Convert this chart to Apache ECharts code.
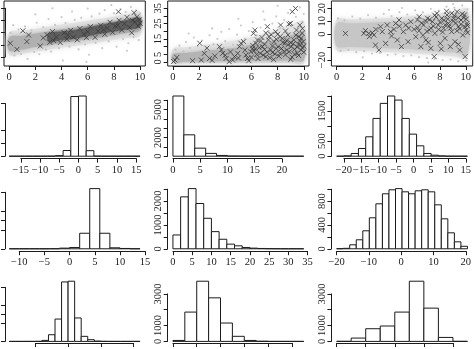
<!DOCTYPE html>
<html>
<head>
<meta charset="utf-8">
<script src="https://cdn.jsdelivr.net/npm/echarts@6/dist/echarts.min.js"></script>
<style>
html,body{margin:0;padding:0;background:#fff}
#chart{width:474px;height:349px}
</style>
</head>
<body>
<div id="chart"></div>
<script>
// ---------- scatter panels (row 1) ----------
// population cloud envelopes (dense core and lighter outer haze)
const bandX = [0, 1, 2, 3, 4, 5, 6, 7, 8, 9, 10];

const popA_hi      = [8.0, 8.7, 9.6, 10.4, 11.2, 12.0, 12.8, 13.6, 14.5, 15.4, 16.4];
const popA_lo      = [2.6, 3.1, 4.1, 4.8, 5.8, 6.4, 7.2, 8.0, 8.9, 9.8, 10.8];
const popA_outerHi = [10.0, 10.6, 11.5, 12.4, 13.3, 14.0, 14.8, 15.7, 16.6, 17.5, 18.4];
const popA_outerLo = [0.8, 1.3, 2.2, 3.0, 3.8, 4.5, 5.3, 6.1, 7.0, 7.8, 8.8];
const sampA_coreX  = [3, 4, 5, 6, 7, 8, 9, 10];
const sampA_coreHi = [9.6, 10.4, 11.0, 12.1, 13.1, 14.1, 15.1, 15.9];
const sampA_coreLo = [6.4, 6.9, 7.6, 8.6, 9.6, 10.4, 11.3, 12.4];
const popA_pts = [[0.1,9.8],[0.4,0.6],[0.7,11.2],[0.9,1.2],[1.2,12.5],[1.4,-0.8],[1.7,10.9],[1.9,2.0],[2.1,14.0],[2.3,1.1],[2.6,12.2],[2.8,3.0],[3.0,15.5],[3.2,2.2],[3.5,13.1],[3.8,3.6],[4.0,16.3],[4.1,-1.5],[4.3,13.9],[4.6,4.2],[4.8,18.6],[5.0,15.2],[5.3,3.1],[5.5,16.0],[5.8,5.1],[6.0,19.8],[6.1,0.9],[6.3,16.6],[6.6,5.8],[6.9,17.7],[7.1,3.6],[7.3,19.2],[7.6,6.4],[7.8,21.2],[8.0,17.9],[8.2,4.2],[8.5,19.6],[8.7,7.3],[8.9,18.4],[9.1,5.6],[9.3,20.4],[9.5,8.1],[9.7,19.1],[9.9,6.9],[10.0,17.8],[2.0,17.4],[5.9,-2.0],[3.3,19.9],[9.0,2.5],[0.3,13.0]];
const sampA_pts = [[0.08,5.6],[0.59,3.1],[1.04,10.7],[1.35,6.3],[1.48,9.0],[2.37,4.5],[2.6,7.8],[2.9,9.1],[3.1,6.0],[3.3,10.4],[3.6,8.2],[3.9,5.9],[4.2,9.9],[4.4,7.3],[4.7,10.9],[4.9,8.1],[5.2,7.0],[5.4,11.6],[5.7,9.4],[5.9,7.9],[6.2,12.4],[6.56,8.0],[6.8,10.6],[7.0,12.9],[7.3,9.3],[7.5,11.8],[7.7,14.2],[7.9,10.1],[8.1,12.7],[8.35,18.5],[8.4,15.0],[8.6,11.0],[8.8,13.6],[9.0,16.2],[9.2,12.1],[9.36,9.9],[9.54,18.1],[9.6,14.3],[9.75,16.4],[9.85,12.6],[9.95,15.2],[10.0,13.8],[3.4,6.7],[4.5,8.9],[6.0,10.3],[7.2,11.1],[8.3,13.0],[9.4,15.0]];

const popB_hi      = [4.8, 5.6, 6.4, 7.2, 8.0, 9.0, 10.4, 12.0, 14.0, 16.2, 18.5];
const popB_lo      = [0.2, 0.2, 0.3, 0.3, 0.4, 0.5, 0.6, 0.7, 0.8, 0.9, 1.0];
const popB_outerHi = [8.0, 9.0, 10.0, 11.0, 12.2, 13.6, 15.4, 17.4, 19.8, 22.4, 25.0];
const popB_outerLo = [-0.6, -0.6, -0.6, -0.6, -0.6, -0.6, -0.6, -0.6, -0.6, -0.6, -0.6];
const popB_pts = [[0.2,7.5],[0.5,10.0],[0.8,6.5],[1.0,12.2],[1.3,8.6],[1.6,15.0],[1.9,9.8],[2.2,13.2],[2.5,7.8],[2.8,16.4],[3.1,11.0],[3.4,14.2],[3.7,18.5],[4.0,12.8],[4.3,20.2],[4.6,10.6],[4.9,16.8],[5.2,22.4],[5.5,14.2],[5.8,19.0],[6.1,24.5],[6.4,16.4],[6.7,21.2],[7.0,26.0],[7.3,18.6],[7.6,23.6],[7.9,28.0],[8.2,20.8],[8.5,25.8],[8.8,30.2],[9.1,22.6],[9.4,27.8],[9.7,33.5],[9.9,24.6],[10.0,29.6],[3.0,20.6],[5.0,26.5],[6.9,31.0],[8.0,34.5],[1.2,17.5]];
const sampB_pts = [[0.05,0.3],[0.15,1.2],[0.3,2.8],[2.05,11.5],[2.17,1.2],[2.4,5.3],[2.8,2.2],[3.2,3.7],[3.56,9.4],[3.7,7.4],[3.8,5.3],[4.07,2.2],[4.3,0.2],[4.57,1.2],[4.7,3.3],[4.95,5.3],[5.08,9.4],[5.2,11.5],[5.4,12.5],[5.58,4.3],[5.7,2.2],[5.96,6.3],[6.09,8.4],[6.16,17.6],[6.26,19.6],[6.34,11.5],[6.46,13.5],[6.67,5.3],[6.84,9.4],[7.1,3.3],[7.22,21.7],[7.35,15.5],[7.47,7.4],[7.73,12.5],[7.85,18.6],[8.03,9.4],[8.18,5.3],[8.23,22.7],[8.36,14.5],[8.54,11.5],[8.69,7.4],[8.79,16.6],[8.86,23.3],[8.99,23.7],[9.04,9.4],[9.12,30.9],[9.24,13.5],[9.37,32.9],[9.44,19.6],[9.5,5.3],[9.62,15.5],[9.7,22.7],[9.75,10.4],[9.8,7.4],[9.87,17.6],[9.95,12.5],[6.0,3.0],[6.2,6.9],[6.5,2.1],[6.6,8.8],[6.9,4.2],[7.0,11.0],[7.2,6.1],[7.4,2.7],[7.6,9.8],[7.8,5.0],[7.9,14.0],[8.1,3.6],[8.3,8.3],[8.4,12.0],[8.6,4.4],[8.8,10.6],[8.9,6.3],[9.1,3.0],[9.2,11.2],[9.3,7.8],[9.5,9.2],[9.6,4.0],[9.7,13.0],[9.9,8.6],[9.9,20.5],[10.0,6.0],[9.4,16.5],[8.0,17.0],[7.5,16.8],[6.8,15.0],[5.5,7.3],[5.0,2.5],[4.4,6.2],[3.0,1.0],[2.6,8.5],[1.5,0.8],[4.0,4.2],[5.8,0.8],[7.7,1.5],[9.0,1.6],[6.1,10.2],[6.4,4.6],[6.7,12.8],[7.0,7.6],[7.3,13.6],[7.6,5.8],[7.9,8.2],[8.2,15.6],[8.5,6.4],[8.7,13.2],[9.0,11.8],[9.3,4.8],[9.6,11.0],[9.8,14.6],[10.0,9.8],[8.6,19.0],[7.1,17.8],[6.3,8.0]];

const popC_hi      = [8.0, 8.2, 8.5, 8.9, 9.4, 10.0, 10.8, 11.8, 13.0, 14.4, 16.0];
const popC_lo      = [-9.5, -9.8, -10.1, -10.5, -10.9, -11.4, -11.9, -12.6, -13.4, -14.2, -15.0];
const popC_outerHi = [11.0, 11.2, 11.5, 11.9, 12.4, 13.0, 13.8, 14.8, 16.0, 17.4, 19.0];
const popC_outerLo = [-12.5, -12.8, -13.1, -13.5, -13.9, -14.4, -14.9, -15.6, -16.4, -17.2, -18.0];
const popC_pts = [[0.1,12.0],[0.3,-13.0],[0.6,10.5],[0.9,-12.2],[1.2,13.4],[1.5,-14.0],[1.8,11.8],[2.1,-13.2],[2.4,14.6],[2.7,-15.0],[3.0,12.6],[3.3,-14.6],[3.6,15.5],[3.9,-16.2],[4.2,13.8],[4.5,-15.6],[4.8,16.8],[5.1,-17.0],[5.4,15.0],[5.7,-16.4],[6.0,18.2],[6.3,-17.8],[6.6,16.6],[6.9,-18.6],[7.2,19.4],[7.5,-19.2],[7.8,18.0],[8.1,-20.0],[8.4,21.0],[8.7,-19.6],[9.0,20.2],[9.3,-21.0],[9.6,22.0],[9.9,-20.4],[10.0,19.0],[2.0,-18.0],[5.0,20.0],[7.0,-22.0],[8.9,23.0],[4.0,18.5]];
const sampC_pts = [[0.67,0.5],[2.08,0.5],[2.2,2.6],[2.46,0.5],[2.72,1.0],[2.85,-0.8],[2.97,-8.5],[3.23,-12.3],[3.36,5.6],[3.49,1.8],[3.74,-7.2],[3.87,6.9],[4.13,1.8],[4.38,3.6],[4.51,8.2],[4.64,-4.6],[4.77,10.8],[4.95,-9.7],[5.1,1.8],[5.28,6.9],[5.46,-5.9],[5.67,9.5],[5.92,3.6],[6.05,-2.1],[6.18,10.8],[6.31,13.3],[6.44,-9.7],[6.64,6.9],[6.82,-4.6],[6.95,12.1],[7.08,3.1],[7.2,-11.0],[7.33,9.5],[7.46,-17.4],[7.51,0.5],[7.67,15.9],[7.77,6.9],[7.92,-7.2],[8.03,12.1],[8.18,4.4],[8.28,-3.3],[8.44,14.6],[8.54,8.2],[8.69,-9.7],[8.79,1.8],[8.95,12.1],[9.05,-5.9],[9.21,17.2],[9.31,5.6],[9.41,-12.3],[9.51,10.8],[9.64,-0.8],[9.77,14.6],[9.82,-17.4],[9.9,3.1],[9.97,8.2],[6.2,5.0],[6.5,8.5],[6.9,2.0],[7.1,11.0],[7.4,6.0],[7.6,13.0],[7.9,9.0],[8.1,1.5],[8.3,7.0],[8.5,11.5],[8.7,4.5],[8.9,9.8],[9.0,14.0],[9.2,2.5],[9.3,12.5],[9.5,7.5],[9.6,15.5],[9.8,5.5],[9.9,11.5],[10.0,1.0],[8.8,16.0],[7.0,-6.5],[8.0,-11.5],[9.3,-8.0],[6.6,-1.0],[5.5,4.5],[4.8,6.0],[4.2,-1.5],[3.0,3.5],[2.5,-2.0],[6.3,2.5],[6.8,10.0],[7.2,4.5],[7.5,14.5],[7.8,3.5],[8.2,10.5],[8.6,6.0],[9.1,8.5],[9.4,4.0],[9.7,12.5],[10.0,6.5],[8.4,17.5]];

// ---------- histogram panels (rows 2-4): bin breaks and counts ----------
const r2c1Breaks = [-18,-16,-14,-12,-10,-8,-6,-4,-2,0,2,4,6,8,10,12,14,16];
const r2c1Counts = [0,0,0,0,0,3,40,430,4530,4570,420,7,0,0,0,0,0];
const r2c2Breaks = [0,2,4,6,8,10,12,14,16,18,20,22,24];
const r2c2Counts = [6450,2290,860,300,80,15,5,0,0,0,0,0];
const r2c3Breaks = [-22,-20,-18,-16,-14,-12,-10,-8,-6,-4,-2,0,2,4,6,8,10,12,14];
const r2c3Counts = [0,10,90,255,645,1255,1755,2000,1865,1255,733,344,90,33,10,0,0,0];

const r3c1Breaks = [-12,-10,-8,-6,-4,-2,0,2,4,6,8,10,12,14];
const r3c1Counts = [0,0,0,0,5,70,140,1650,6390,1650,105,35,0];
const r3c2Breaks = [0,2,4,6,8,10,12,14,16,18,20,22,24,26,28,30,32,34];
const r3c2Counts = [580,2180,2525,1900,1280,720,400,195,125,55,28,14,5,2,0,0,0];
const r3c3Breaks = [-20,-18,-16,-14,-12,-10,-8,-6,-4,-2,0,2,4,6,8,10,12,14,16,18,20];
const r3c3Counts = [2,8,67,151,302,520,755,923,990,1010,956,923,973,990,956,738,503,268,117,42];

const r4c1Breaks = [-9,-8,-7,-6,-5,-4,-3,-2,-1,0,1,2,3,4,5,6,7,8,9,10,11];
const r4c1Counts = [0,0,0,0,3,55,370,1240,3300,3340,1300,280,95,17,3,0,0,0,0,0];
const r4c2Breaks = [0,2.5,5,7.5,10,12.5,15,17.5,20,22.5,25,27.5];
const r4c2Counts = [60,1850,3800,2750,1160,320,60,10,0,0,0];
const r4c3Breaks = [-30,-25,-20,-15,-10,-5,0,5,10,15];
const r4c3Counts = [5,210,800,970,1850,3800,2100,250,5];

// ---------- axis ticks: [first, last, step] and the labels that are printed ----------
const scatterXTicks = [0, 10, 2];
const r1c1YTicks = [0, 20, 5];
const r1c2YTicks = [0, 35, 5];   const r1c2YShown = [0, 5, 15, 25, 35];
const r1c3YTicks = [-20, 20, 10]; const r1c3YShown = [-20, 0, 10, 20];

const r2c1XTicks = [-15, 15, 5]; const r2c1YTicks = [0, 4000, 1000];
const r2c2XTicks = [0, 20, 5];   const r2c2YTicks = [0, 6000, 1000]; const r2c2YShown = [0, 2000, 5000];
const r2c3XTicks = [-20, 15, 5]; const r2c3YTicks = [0, 2000, 500];  const r2c3YShown = [0, 500, 1500];
const r3c1XTicks = [-10, 15, 5]; const r3c1YTicks = [0, 6000, 1000];
const r3c2XTicks = [0, 35, 5];   const r3c2YTicks = [0, 2500, 500];  const r3c2YShown = [0, 1000, 2000];
const r3c3XTicks = [-20, 20, 10]; const r3c3YTicks = [0, 1000, 200]; const r3c3YShown = [0, 400, 800];
const r4c1XTicks = [-5, 10, 5];  const r4c1YTicks = [0, 3000, 500];
const r4c2XTicks = [0, 25, 5];   const r4c2YTicks = [0, 3000, 1000]; const r4c2YShown = [0, 1000, 3000];
const r4c3XTicks = [-30, 10, 10]; const r4c3YTicks = [0, 3000, 1000]; const r4c3YShown = [0, 1000, 3000];

// ---------- page layout (plot regions in px) ----------
const COL_LEFT = [4, 167.7, 331.4];
const PLOT_W = 141.3;
const ROW_TOP = [1, 93.6, 186.2, 278.8];
const PLOT_H = 65;
const FONT = 'Liberation Serif';
const FONT_SIZE = 10.5;
const INK = '#1b1b1b';

const option = { animation: false, backgroundColor: '#ffffff', grid: [], xAxis: [], yAxis: [], series: [] };

function addGrid(g) {
  option.grid.push(Object.assign({ containLabel: false }, g));
  return option.grid.length - 1;
}
function fmtTick(v, shown) {
  if (shown && shown.indexOf(v) < 0) return '';
  return v < 0 ? '\u2212' + Math.abs(v) : String(v);
}
function labelStyle(extra) {
  return Object.assign({ show: true, fontFamily: FONT, fontSize: FONT_SIZE, color: INK,
    showMinLabel: true, showMaxLabel: true }, extra);
}

// data region of one panel; axes are hidden here and drawn separately R-style
function dataPanel(row, col, xr, yr, box) {
  const gi = addGrid({ left: COL_LEFT[col], top: ROW_TOP[row], width: PLOT_W, height: PLOT_H,
    show: !!box, borderColor: INK, borderWidth: 1, backgroundColor: 'transparent' });
  option.xAxis.push({ type: 'value', gridIndex: gi, min: xr[0], max: xr[1], show: false });
  option.yAxis.push({ type: 'value', gridIndex: gi, min: yr[0], max: yr[1], show: false });
  return { xi: option.xAxis.length - 1, yi: option.yAxis.length - 1, xr, yr, row, col };
}

// bottom axis spanning only first..last tick
function bottomAxis(p, ticks, shown) {
  const [t0, t1, step] = ticks;
  const sx = PLOT_W / (p.xr[1] - p.xr[0]);
  const left = COL_LEFT[p.col] + (t0 - p.xr[0]) * sx;
  const bottom = ROW_TOP[p.row] + PLOT_H;
  const gi = addGrid({ left, width: (t1 - t0) * sx, top: bottom - 1, height: 1 });
  option.xAxis.push({ type: 'value', gridIndex: gi, position: 'bottom', min: t0, max: t1, interval: step,
    axisLine: { show: true, onZero: false, lineStyle: { color: INK, width: 1 } },
    axisTick: { show: true, inside: false, length: 4, lineStyle: { color: INK, width: 1 } },
    splitLine: { show: false },
    axisLabel: labelStyle({ margin: 6, formatter: v => fmtTick(v, shown) }) });
  option.yAxis.push({ type: 'value', gridIndex: gi, min: 0, max: 1, show: false });
}

// left axis spanning only first..last tick, labels parallel to the axis
function leftAxis(p, ticks, shown) {
  const [t0, t1, step] = ticks;
  const sy = PLOT_H / (p.yr[1] - p.yr[0]);
  const base = ROW_TOP[p.row] + PLOT_H;
  const yBottom = base - (t0 - p.yr[0]) * sy;
  const yTop = base - (t1 - p.yr[0]) * sy;
  const gi = addGrid({ left: COL_LEFT[p.col], width: 1, top: yTop, height: yBottom - yTop });
  option.xAxis.push({ type: 'value', gridIndex: gi, min: 0, max: 1, show: false });
  option.yAxis.push({ type: 'value', gridIndex: gi, position: 'left', min: t0, max: t1, interval: step,
    axisLine: { show: true, onZero: false, lineStyle: { color: INK, width: 1 } },
    axisTick: { show: true, inside: false, length: 4, lineStyle: { color: INK, width: 1 } },
    splitLine: { show: false },
    axisLabel: labelStyle({ rotate: 90, margin: 4, formatter: v => fmtTick(v, shown) }) });
}

// soft-edged filled band between two envelopes
function bandSeries(p, xs, lo, hi, color, blur) {
  option.series.push({ type: 'custom', xAxisIndex: p.xi, yAxisIndex: p.yi, data: [[xs[0], lo[0]]],
    silent: true, clip: true,
    renderItem: (params, api) => {
      const top = xs.map((x, i) => api.coord([x, hi[i]]));
      const bot = xs.map((x, i) => api.coord([x, lo[i]])).reverse();
      return { type: 'polygon', shape: { points: top.concat(bot), smooth: 0.35 },
        style: { fill: color, shadowBlur: blur || 0, shadowColor: color } };
    } });
}
function dotSeries(p, pts, color, size) {
  option.series.push({ type: 'scatter', xAxisIndex: p.xi, yAxisIndex: p.yi, data: pts, silent: true,
    symbol: 'circle', symbolSize: size, itemStyle: { color } });
}
function crossSeries(p, pts) {
  option.series.push({ type: 'scatter', xAxisIndex: p.xi, yAxisIndex: p.yi, data: pts, silent: true,
    symbol: 'path://M0,0L10,10M10,0L0,10', symbolSize: 5,
    itemStyle: { color: 'rgba(0,0,0,0)', borderColor: '#383838', borderWidth: 1 } });
}
function histSeries(p, breaks, counts) {
  const data = counts.map((c, i) => [breaks[i], breaks[i + 1], c]);
  option.series.push({ type: 'custom', xAxisIndex: p.xi, yAxisIndex: p.yi, data, silent: true, clip: false,
    encode: { x: [0, 1], y: 2 },
    renderItem: (params, api) => {
      const a = api.coord([api.value(0), api.value(2)]);
      const b = api.coord([api.value(1), 0]);
      return { type: 'rect', shape: { x: a[0], y: a[1], width: b[0] - a[0], height: b[1] - a[1] },
        style: { fill: '#ffffff', stroke: INK, lineWidth: 1 } };
    } });
}

// R-like range: data range widened by 4% on each side
function rRange(lo, hi) { const d = (hi - lo) * 0.04; return [lo - d, hi + d]; }

// ---------- row 1: scatter plots ----------
const scatterXR = rRange(0, 10);
function scatterPanel(col, yr, yTicks, yShown, outerLo, outerHi, lo, hi, greyPts, samplePts, core, coreColor) {
  const p = dataPanel(0, col, scatterXR, yr, true);
  bandSeries(p, bandX, outerLo, outerHi, '#e3e3e3', 6);
  dotSeries(p, greyPts, '#bdbdbd', 2.2);
  bandSeries(p, bandX, lo, hi, coreColor, 5);
  if (core) bandSeries(p, core[0], core[1], core[2], '#5e5e5e', 3);
  crossSeries(p, samplePts);
  bottomAxis(p, scatterXTicks);
  leftAxis(p, yTicks, yShown);
}
scatterPanel(0, [-3.7, 22.9], r1c1YTicks, null, popA_outerLo, popA_outerHi, popA_lo, popA_hi, popA_pts, sampA_pts,
  [sampA_coreX, sampA_coreLo, sampA_coreHi], '#b0b0b0');
scatterPanel(1, [-2.46, 37.46], r1c2YTicks, r1c2YShown, popB_outerLo, popB_outerHi, popB_lo, popB_hi, popB_pts, sampB_pts, null, '#b4b4b4');
scatterPanel(2, [-24.6, 25.4], r1c3YTicks, r1c3YShown, popC_outerLo, popC_outerHi, popC_lo, popC_hi, popC_pts, sampC_pts, null, '#c6c6c6');

// ---------- rows 2-4: histograms ----------
function histPanel(row, col, breaks, counts, xTicks, yTicks, yShown) {
  const maxC = Math.max.apply(null, counts);
  const p = dataPanel(row, col, rRange(breaks[0], breaks[breaks.length - 1]), [-0.04 * maxC, 1.04 * maxC], false);
  histSeries(p, breaks, counts);
  bottomAxis(p, xTicks);
  leftAxis(p, yTicks, yShown);
}
histPanel(1, 0, r2c1Breaks, r2c1Counts, r2c1XTicks, r2c1YTicks, null);
histPanel(1, 1, r2c2Breaks, r2c2Counts, r2c2XTicks, r2c2YTicks, r2c2YShown);
histPanel(1, 2, r2c3Breaks, r2c3Counts, r2c3XTicks, r2c3YTicks, r2c3YShown);
histPanel(2, 0, r3c1Breaks, r3c1Counts, r3c1XTicks, r3c1YTicks, null);
histPanel(2, 1, r3c2Breaks, r3c2Counts, r3c2XTicks, r3c2YTicks, r3c2YShown);
histPanel(2, 2, r3c3Breaks, r3c3Counts, r3c3XTicks, r3c3YTicks, r3c3YShown);
histPanel(3, 0, r4c1Breaks, r4c1Counts, r4c1XTicks, r4c1YTicks, null);
histPanel(3, 1, r4c2Breaks, r4c2Counts, r4c2XTicks, r4c2YTicks, r4c2YShown);
histPanel(3, 2, r4c3Breaks, r4c3Counts, r4c3XTicks, r4c3YTicks, r4c3YShown);

const chart = echarts.init(document.getElementById('chart'), null, { renderer: 'canvas' });
chart.setOption(option);
</script>
</body>
</html>
